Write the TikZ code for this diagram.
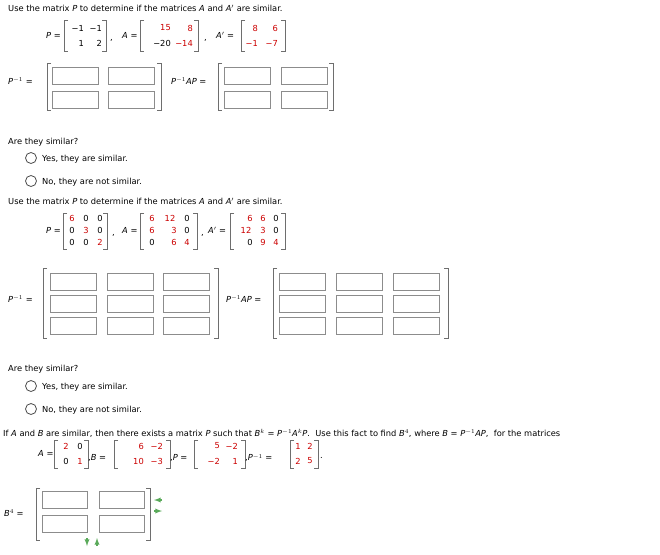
\documentclass[tikz,border=0pt]{standalone}
\usepackage{fontspec}
\setmainfont{DejaVu Sans}
\definecolor{rd}{RGB}{204,0,0}
\definecolor{br}{RGB}{110,110,110}
\definecolor{bx}{RGB}{140,140,140}
\definecolor{gn}{RGB}{90,170,90}
\tikzset{
 t/.style={anchor=west,inner sep=0pt,font=\fontsize{8.3}{10}\selectfont},
 e/.style={inner sep=0pt,font=\fontsize{8.3}{10}\selectfont},
 r/.style={e,text=rd},
 inbox/.style={draw=bx,line width=0.8pt,fill=white},
 brk/.style={draw=br,line width=0.9pt},
 radio/.style={draw=black!70,line width=0.8pt,circle,minimum size=11pt,inner sep=0pt}
}
\newcommand{\mybr}[4]{%
 \path[brk] (#1+4,#3)--(#1,#3)--(#1,#4)--(#1+4,#4);
 \path[brk] (#2-4,#3)--(#2,#3)--(#2,#4)--(#2-4,#4);}
\newcommand{\ib}[2]{\path[inbox] (#1,#2) rectangle ++(46,17);}
\begin{document}
\begin{tikzpicture}[x=1pt,y=-1pt]
\useasboundingbox (0,0) rectangle (660,554);
\fill[white] (0,0) rectangle (660,554);
% ---------- Section 1
\node[t] (t1) at (8,8) {Use the matrix \textit{P} to determine if the matrices \textit{A} and \textit{A}$'$ are similar.};
\node[t] at (46,35) {\textit{P} =};
\mybr{64}{106}{20}{51}
\node[e,anchor=east] at (84,28) {−1}; \node[e,anchor=east] at (102,28) {−1};
\node[e,anchor=east] at (84,43) {1}; \node[e,anchor=east] at (102,43) {2};
\node[t] at (110,40) {,};
\node[t] at (122,35) {\textit{A} =};
\mybr{140}{198}{20}{51}
\node[r,anchor=east] at (171,28) {15}; \node[r,anchor=east] at (193,28) {8};
\node[e,anchor=east] at (171,43) {−20}; \node[r,anchor=east] at (193,43) {−14};
\node[t] at (204,40) {,};
\node[t] at (216,35) {\textit{A}$'$ =};
\mybr{241}{285}{20}{51}
\node[r,anchor=east] at (258,28) {8}; \node[r,anchor=east] at (278,28) {6};
\node[r,anchor=east] at (258,43) {−1}; \node[r,anchor=east] at (278,43) {−7};
\node[t] at (8,81) {\textit{P}$^{-1}$ =};
\mybr{47}{161}{63}{110}
\ib{52}{67} \ib{108}{67} \ib{52}{91} \ib{108}{91}
\node[t] at (171,81) {\textit{P}$^{-1}$\textit{AP} =};
\mybr{218}{333}{63}{110}
\ib{224}{67} \ib{281}{67} \ib{224}{91} \ib{281}{91}
\node[t] at (8,142) {Are they similar?};
\node[radio] (r1) at (31,158) {}; \node[t] at (42,159) {Yes, they are similar.};
\node[radio] (r2) at (31,181) {}; \node[t] at (42,182) {No, they are not similar.};
% ---------- Section 2
\node[t] (t2) at (8,201) {Use the matrix \textit{P} to determine if the matrices \textit{A} and \textit{A}$'$ are similar.};
\node[t] at (46,230) {\textit{P} =};
\mybr{63}{107}{213}{249}
\foreach \x/\y/\s/\c in {72/218/6/rd,86/218/0/black,100/218/0/black,72/230/0/black,86/230/3/rd,100/230/0/black,72/242/0/black,86/242/0/black,100/242/2/rd}
 \node[e,text=\c] at (\x,\y) {\s};
\node[t] at (112,235) {,};
\node[t] at (122,230) {\textit{A} =};
\mybr{140}{197}{213}{249}
\foreach \x/\y/\s/\c in {152/218/6/rd,170/218/12/rd,187/218/0/black,152/230/6/rd,174/230/3/rd,187/230/0/black,152/242/0/black,174/242/6/rd,187/242/4/rd}
 \node[e,text=\c] at (\x,\y) {\s};
\node[t] at (201,235) {,};
\node[t] at (208,230) {\textit{A}$'$ =};
\mybr{230}{285}{213}{249}
\foreach \x/\y/\s/\c in {250/218/6/rd,263/218/6/rd,276/218/0/black,246/230/12/rd,263/230/3/rd,276/230/0/black,250/242/0/black,263/242/9/rd,276/242/4/rd}
 \node[e,text=\c] at (\x,\y) {\s};
\node[t] at (8,299) {\textit{P}$^{-1}$ =};
\mybr{43}{218}{268}{338}
\foreach \x in {50,107,163} \foreach \y in {273,295,317} {\ib{\x}{\y}}
\node[t] at (226,299) {\textit{P}$^{-1}$\textit{AP} =};
\mybr{273}{448}{268}{338}
\foreach \x in {279,336,393} \foreach \y in {273,295,317} {\ib{\x}{\y}}
\node[t] at (8,369) {Are they similar?};
\node[radio] (r3) at (31,386) {}; \node[t] at (42,387) {Yes, they are similar.};
\node[radio] (r4) at (31,409) {}; \node[t] at (42,410) {No, they are not similar.};
% ---------- Section 3
\node[t] (t3) at (3,433) {If \textit{A} and \textit{B} are similar, then there exists a matrix \textit{P} such that \textit{B}$^k$ = \textit{P}$^{-1}$\textit{A}$^k$\textit{P}.\ \ Use this fact to find \textit{B}$^4$, where \textit{B} = \textit{P}$^{-1}$\textit{AP},\ \ for the matrices};
\node[t] at (38,453) {\textit{A} =};
\mybr{54}{88}{440}{468}
\node[r] at (66,446) {2}; \node[e] at (80,446) {0};
\node[e] at (66,461) {0}; \node[r] at (80,461) {1};
\node[t] at (88,458) {,\textit{B} =};
\mybr{114}{170}{440}{468}
\node[r,anchor=east] at (144,446) {6}; \node[r,anchor=east] at (163,446) {−2};
\node[r,anchor=east] at (144,461) {10}; \node[r,anchor=east] at (163,461) {−3};
\node[t] at (170,458) {,\textit{P} =};
\mybr{194}{245}{440}{468}
\node[r,anchor=east] at (220,446) {5}; \node[r,anchor=east] at (238,446) {−2};
\node[r,anchor=east] at (220,461) {−2}; \node[r,anchor=east] at (238,461) {1};
\node[t] at (245,458) {,\textit{P}$^{-1}$ =};
\mybr{290}{318}{440}{468}
\node[r] at (298,446) {1}; \node[r] at (310,446) {2};
\node[r] at (298,461) {2}; \node[r] at (310,461) {5};
\node[t] at (320,458) {.};
\node[t] at (4,513) {\textit{B}$^4$ =};
\mybr{36}{150}{488}{540}
\path[inbox] (42,491) rectangle ++(45,17); \path[inbox] (99,491) rectangle ++(45,17);
\path[inbox] (42,515) rectangle ++(45,17); \path[inbox] (99,515) rectangle ++(45,17);
\path[draw=gn,line width=1.3pt,-latex] (162,500)--(154,500);
\path[draw=gn,line width=1.3pt,-latex] (154,511)--(162,511);
\path[draw=gn,line width=1.3pt,-latex] (87,538)--(87,546);
\path[draw=gn,line width=1.3pt,-latex] (97,546)--(97,538);
\end{tikzpicture}
\end{document}
